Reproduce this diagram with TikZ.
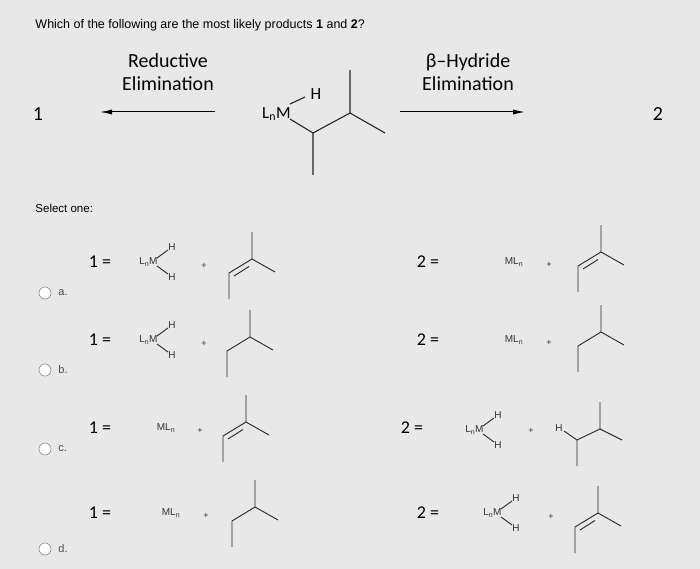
\documentclass[tikz,border=0pt]{standalone}
\usepackage{fontspec}
\usetikzlibrary{arrows.meta}
\setmainfont{Liberation Sans}
\newfontfamily\carlfont{Carlito}
\begin{document}
\begin{tikzpicture}[x=1pt,y=-1pt,line width=0.9pt,
  bond/.style={line width=0.9pt,color=black!85},
  lbl/.style={font=\carlfont\fontsize{20}{23}\selectfont,align=center,inner sep=0pt},
  eq/.style={font=\carlfont\fontsize{18}{20}\selectfont,inner sep=0pt},
  sm/.style={font=\fontsize{10}{11}\selectfont,inner sep=0pt,text=black!80},
  opt/.style={font=\fontsize{11}{12}\selectfont,inner sep=0pt,anchor=west,text=black!70}]
\fill[black!9] (0,0) rectangle (700,569);
\useasboundingbox (0,0) rectangle (700,569);
\newcommand\myskel[3]{% x y double
  \begin{scope}[shift={(#1,#2)}]
  \draw[bond] (0,-27) -- (0,0) -- (23,13);
  \draw[bond] (0,0) -- (-23,14) -- (-23,40);
  \ifnum#3=1 \draw[bond] (-18,17) -- (-3,7.5);\fi
  \end{scope}}
\newcommand\mylmh[2]{% M right x, y
  \node[sm,anchor=east] (lm#1#2) at (#1+1,#2) {L\textsubscript{n}M};
  \draw[bond] (#1,#2-4) -- (#1+11,#2-12);
  \node[sm] (ha#1#2) at (#1+15,#2-15) {H};
  \draw[bond] (#1,#2+4) -- (#1+11,#2+12);
  \node[sm] (hb#1#2) at (#1+15,#2+15) {H};}
\newcommand\mymln[2]{\node[sm] (ml#1#2) at (#1,#2) {ML\textsubscript{n}};}
\newcommand\mypl[2]{\node[sm,font=\fontsize{9}{9}\selectfont] (p#1#2) at (#1,#2) {+};}
\node[anchor=west,inner sep=0pt,font=\fontsize{12.5}{14}\selectfont] (q) at (35,25) {Which of the following are the most likely products \textbf{1} and \textbf{2}?};
\node[lbl] (re) at (168,72) {Reductive\\Elimination};
\node[lbl] (bh) at (468,72) {β–Hydride\\Elimination};
\node[eq,font=\carlfont\fontsize{20}{22}\selectfont] (one) at (38,114) {1};
\node[eq,font=\carlfont\fontsize{20}{22}\selectfont] (two) at (658,114) {2};
\coordinate (ra) at (215,112); \coordinate (la) at (100,112);
\draw[-{Latex[length=12pt,width=5pt]},line width=1pt] (ra) -- (la);
\coordinate (rb) at (400,112); \coordinate (lb) at (525,112);
\draw[-{Latex[length=12pt,width=5pt]},line width=1pt] (rb) -- (lb);
\node[font=\carlfont\fontsize{17}{19}\selectfont,inner sep=0pt,anchor=east] (lm) at (291,114) {L\textsubscript{n}M};
\draw[bond,line width=1.1pt] (290,104) -- (305,97);
\node[font=\carlfont\fontsize{17}{19}\selectfont,inner sep=0pt] (h) at (316,94) {H};
\draw[bond,line width=1.1pt] (290,119) -- (313,133) -- (313,175);
\draw[bond,line width=1.1pt] (313,133) -- (350,113) -- (350,70);
\draw[bond,line width=1.1pt] (350,113) -- (385,133);
\node[anchor=west,inner sep=0pt,font=\fontsize{11.5}{13}\selectfont] (sel) at (35,208) {Select one:};
\foreach \yy/\ll in {293/a,370/b,449/c,549/d}{
  \draw[black!45,fill=white,line width=0.6pt] (45,\yy) circle (6);
  \node[opt] (o\ll) at (58,\yy) {\ll.};}
% row a
\node[eq] (a1) at (100,262) {1 =}; \mylmh{157}{262} \mypl{204}{266} \myskel{252}{259}{1}
\node[eq] (a2) at (428,262) {2 =}; \mymln{514}{262} \mypl{549}{265} \myskel{601}{252}{1}
% row b
\node[eq] (b1) at (100,340) {1 =}; \mylmh{157}{340} \mypl{204}{344} \myskel{250}{337}{0}
\node[eq] (b2) at (428,340) {2 =}; \mymln{514}{340} \mypl{549}{343} \myskel{601}{332}{0}
% row c
\node[eq] (c1) at (100,428) {1 =}; \mymln{166}{428} \mypl{200}{431} \myskel{246}{422}{1}
\node[eq] (c2) at (412,428) {2 =}; \mylmh{483}{430} \mypl{531}{431}
\begin{scope}[shift={(600,429)}]
\draw[bond] (0,-27) -- (0,0) -- (22,11);
\draw[bond] (0,0) -- (-23,11) -- (-23,37);
\draw[bond] (-23,11) -- (-36,2);
\end{scope}
\node[sm] (hc) at (559,428) {H};
% row d
\node[eq] (d1) at (100,513) {1 =}; \mymln{171}{513} \mypl{206}{516} \myskel{255}{507}{0}
\node[eq] (d2) at (428,513) {2 =}; \mylmh{501}{513} \mypl{551}{517} \myskel{598}{513}{1}
\end{tikzpicture}
\end{document}
